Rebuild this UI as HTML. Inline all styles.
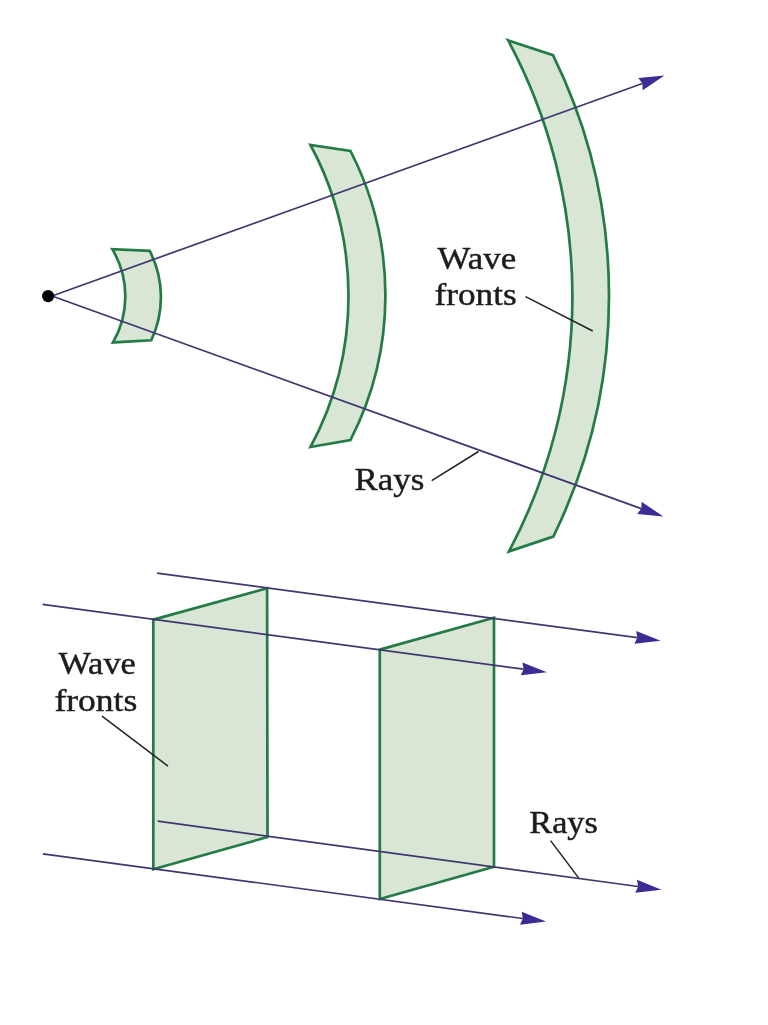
<!DOCTYPE html><html><head><meta charset="utf-8"><style>html,body{margin:0;padding:0;background:#fff;width:768px;height:1025px;overflow:hidden}svg{display:block;will-change:transform}</style></head><body><svg width="768" height="1025" viewBox="0 0 768 1025"><style>.wf{fill:#d9e6d5;stroke:#247b46;stroke-width:2.7;stroke-linejoin:miter} .ray{stroke:#41366f;stroke-width:1.7;fill:none} .ah{fill:#3d2b94} .ld{stroke:#222222;stroke-width:1.5} text{font-family:"Liberation Serif",serif;font-size:32px;fill:#1c1c1c;stroke:#1c1c1c;stroke-width:0.45}</style><path d="M112.3,249.1 A92.3,92.3 0 0 1 113.0,342.4 L151.2,340.3 A100.9,100.9 0 0 0 149.7,250.9 Z" class="wf"/><path d="M310.5,145.0 A319.0,319.0 0 0 1 310.5,447.0 L350.5,440.0 A316.6,316.6 0 0 0 350.5,151.0 Z" class="wf"/><path d="M508.2,40.4 A543.5,543.5 0 0 1 509.0,551.4 L553.3,536.6 A546.6,546.6 0 0 0 553.0,55.2 Z" class="wf"/><line x1="52.0" y1="296.0" x2="642.4" y2="83.5" class="ray"/><polygon points="0,0 -25.5,-6.5 -23.5,0 -25.5,6.5" class="ah" transform="translate(664.5,75.5) rotate(-19.80)"/><line x1="52.0" y1="296.0" x2="641.3" y2="508.6" class="ray"/><polygon points="0,0 -25.5,-6.5 -23.5,0 -25.5,6.5" class="ah" transform="translate(663.4,516.6) rotate(19.84)"/><circle cx="48.1" cy="296.1" r="6.1" fill="#000"/><text transform="translate(437.6,268.7) scale(1.0901,1)">Wave</text><text transform="translate(434.5,305) scale(1.1014,1)">fronts</text><line x1="525.6" y1="296.7" x2="592.7" y2="331" class="ld"/><text transform="translate(354.5,490) scale(1.0919,1)">Rays</text><line x1="431.7" y1="480.6" x2="478.5" y2="451.5" class="ld"/><polygon points="153.3,619.6 267.1,588.3 267.5,837.1 153.3,869.2" class="wf"/><polygon points="379.8,649.6 494,617.7 494,866.7 379.8,899" class="wf"/><line x1="157.1" y1="573.1" x2="637.3" y2="637.7" class="ray"/><polygon points="0,0 -25.5,-6.5 -23.5,0 -25.5,6.5" class="ah" transform="translate(660.6,640.8) rotate(7.66)"/><line x1="42.5" y1="604.4" x2="523.6" y2="669.2" class="ray"/><polygon points="0,0 -25.5,-6.5 -23.5,0 -25.5,6.5" class="ah" transform="translate(546.9,672.3) rotate(7.67)"/><line x1="157.7" y1="821.2" x2="638.1" y2="886.5" class="ray"/><polygon points="0,0 -25.5,-6.5 -23.5,0 -25.5,6.5" class="ah" transform="translate(661.4,889.7) rotate(7.74)"/><line x1="42.9" y1="853.8" x2="522.8" y2="918.5" class="ray"/><polygon points="0,0 -25.5,-6.5 -23.5,0 -25.5,6.5" class="ah" transform="translate(546.1,921.6) rotate(7.67)"/><text transform="translate(58.4,674.3) scale(1.0761,1)">Wave</text><text transform="translate(54.4,710.7) scale(1.1110,1)">fronts</text><line x1="102" y1="716.2" x2="168" y2="766.1" class="ld"/><text transform="translate(529.3,832.6) scale(1.0710,1)">Rays</text><line x1="550.6" y1="840.6" x2="578.6" y2="877.9" class="ld"/></svg></body></html>
